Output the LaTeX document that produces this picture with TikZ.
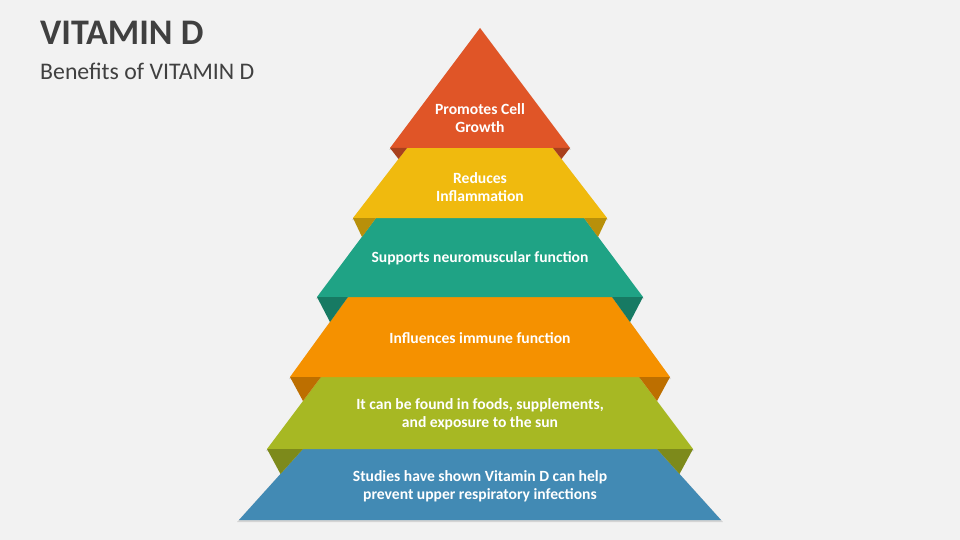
\documentclass[tikz,border=0pt]{standalone}
\usepackage{fontspec}
\setmainfont{Carlito}
\usepackage{tikz}
\usetikzlibrary{positioning}

\definecolor{bgc}{HTML}{F2F2F2}
\definecolor{titlec}{HTML}{404040}
\definecolor{redc}{HTML}{E05527}
\definecolor{redd}{HTML}{A9401D}
\definecolor{yelc}{HTML}{F0BA0E}
\definecolor{yeld}{HTML}{B8900A}
\definecolor{tealc}{HTML}{1FA385}
\definecolor{teald}{HTML}{177A63}
\definecolor{orac}{HTML}{F59100}
\definecolor{orad}{HTML}{BD6F00}
\definecolor{grnc}{HTML}{A7B823}
\definecolor{grnd}{HTML}{7D8A1B}
\definecolor{bluc}{HTML}{428AB4}

\begin{document}
\begin{tikzpicture}[
    x=1pt, y=-1pt,
    layer/.style={draw=none},
    fold/.style={draw=none},
    shade/.style={fill=black, opacity=0.12},
    label/.style={text=white, align=center, font=\fontsize{15.6}{18.5}\selectfont\bfseries}
]

% Background
\fill[bgc] (0,0) rectangle (960,540);
\useasboundingbox (0,0) rectangle (960,540);

% Title
\node[anchor=base west, inner sep=0, text=titlec, font=\fontsize{36}{40}\selectfont\bfseries] (title) at (40,45) {VITAMIN D};
\node[anchor=base west, inner sep=0, text=titlec, font=\fontsize{23.8}{27}\selectfont] (subtitle) at (40,80) {Benefits of VITAMIN D};

% Shadows
\fill[shade] (303,449) -- (657,449) -- (723,522) -- (237,522) -- cycle;
\fill[shade] (322,377) -- (638,377) -- (694,451) -- (266,451) -- cycle;
\fill[shade] (348,297) -- (612,297) -- (671,379) -- (289,379) -- cycle;
\fill[shade] (376,218) -- (584,218) -- (644,299) -- (316,299) -- cycle;
\fill[shade] (407,148) -- (553,148) -- (608,220) -- (352,220) -- cycle;
\fill[shade] (480,28) -- (571,150) -- (389,150) -- cycle;

% Layers
\fill[layer, bluc] (303,449) -- (657,449) -- (721,520) -- (239,520) -- cycle;
\fill[layer, grnc] (321,377) -- (639,377) -- (693,449) -- (267,449) -- cycle;
\fill[layer, orac] (348,297) -- (612,297) -- (670,377) -- (290,377) -- cycle;
\fill[layer, tealc] (376,218) -- (584,218) -- (643,297) -- (317,297) -- cycle;
\fill[layer, yelc] (407,148) -- (553,148) -- (607,218) -- (353,218) -- cycle;
\fill[layer, redc] (480,28) -- (570,148) -- (390,148) -- cycle;

% Folds
\fill[fold, redd] (390,148) -- (407,148) -- (398.5,159) -- cycle;
\fill[fold, redd] (570,148) -- (553,148) -- (561.5,159) -- cycle;
\fill[fold, yeld] (353,218) -- (376,218) -- (362,237) -- cycle;
\fill[fold, yeld] (607,218) -- (584,218) -- (598,237) -- cycle;
\fill[fold, teald] (317,297) -- (348,297) -- (330,322) -- cycle;
\fill[fold, teald] (643,297) -- (612,297) -- (630,322) -- cycle;
\fill[fold, orad] (290,377) -- (321,377) -- (303,401) -- cycle;
\fill[fold, orad] (670,377) -- (639,377) -- (657,401) -- cycle;
\fill[fold, grnd] (267,449) -- (303,449) -- (280.5,474) -- cycle;
\fill[fold, grnd] (693,449) -- (657,449) -- (679.5,474) -- cycle;

% Labels
\node[label] (growth) at (480,118) {Promotes Cell\\Growth};
\node[label] (inflam) at (480,187) {Reduces\\Inflammation};
\node[label] (neuro) at (480,258) {Supports neuromuscular function};
\node[label] (immune) at (480,338) {Influences immune function};
\node[label] (foods) at (480,414) {It can be found in foods, supplements,\\and exposure to the sun};
\node[label] (resp) at (480,486) {Studies have shown Vitamin D can help\\prevent upper respiratory infections};

\end{tikzpicture}
\end{document}
